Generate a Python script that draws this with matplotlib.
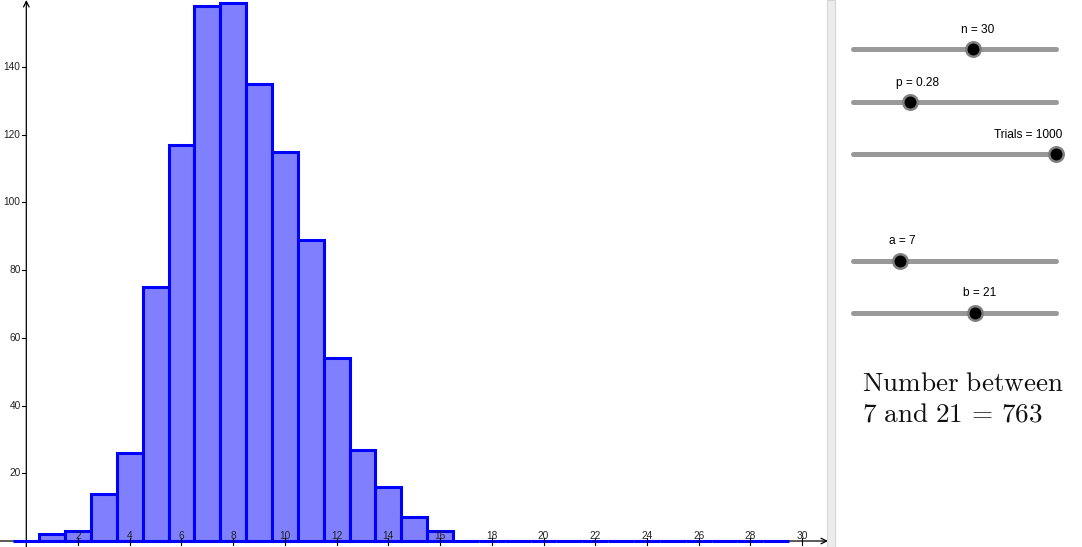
import matplotlib
matplotlib.use('Agg')
import matplotlib.pyplot as plt
from matplotlib.patches import Rectangle

# histogram of simulated binomial outcomes (counts per number of successes)
outcomes = list(range(0, 30))
counts = [0, 2, 3, 14, 26, 75, 117, 158, 159, 135, 115, 89, 54, 27, 16, 7, 3,
          0, 0, 0, 0, 0, 0, 0, 0, 0, 0, 0, 0, 0]
x_ticks = list(range(2, 31, 2))
y_ticks = list(range(20, 141, 20))

# slider settings: name, value, min, max
slider_names = ['n', 'p', 'Trials', 'a', 'b']
slider_values = [30, 0.28, 1000, 7, 21]
slider_mins = [1, 0, 0, 0, 0]
slider_maxs = [50, 1, 1000, 30, 35]

a_val, b_val = slider_values[3], slider_values[4]
between = sum(c for k, c in zip(outcomes, counts) if a_val <= k <= b_val)

plt.rcParams['mathtext.fontset'] = 'cm'
fig = plt.figure(figsize=(10.82, 5.47), dpi=100)
W, H = 1082, 547

# graphics view
ax = fig.add_axes([0, 0, 828 / W, 1])
ax.set_xlim(-1.017, 31.0)
ax.set_ylim(-1.77, 159.8)
ax.axis('off')

# axes with arrows
ax.annotate('', xy=(31.0, 0), xytext=(-1.017, 0),
            arrowprops=dict(arrowstyle='->', lw=0.9, color='black', shrinkA=0, shrinkB=0))
ax.annotate('', xy=(0, 159.8), xytext=(0, -1.77),
            arrowprops=dict(arrowstyle='->', lw=0.9, color='black', shrinkA=0, shrinkB=0))

for t in x_ticks:
    ax.plot([t, t], [-1.2, 1.0], color='black', lw=0.8, zorder=4)
    ax.text(t, 1.5, str(t), ha='center', va='center', fontsize=7.3,
            family='Liberation Sans', color='#222222', zorder=5)
for t in y_ticks:
    ax.plot([-0.15, 0], [t, t], color='black', lw=0.8)
    ax.text(-0.22, t, str(t), ha='right', va='center', fontsize=7.3,
            family='Liberation Sans', color='#222222')

ax.bar(outcomes, counts, width=1.0, color='#8080ff', edgecolor='#0000ff',
       linewidth=2.2, zorder=3)

# divider between graphics and algebra panels
fig.patches.append(Rectangle((827 / W, 0), 8 / W, 1, transform=fig.transFigure,
                             facecolor='#ececec', edgecolor='#d6d6d6', lw=0.8))

# slider panel in pixel coordinates
ax2 = fig.add_axes([0, 0, 1, 1])
ax2.set_xlim(0, W)
ax2.set_ylim(H, 0)
ax2.axis('off')
ax2.patch.set_alpha(0)

track_x0, track_x1 = 853, 1056
track_y = [49, 102, 154, 260.5, 312.5]
label_dx = [4, 8, -28, 2, 5]
for name, val, lo, hi, ty, dx in zip(slider_names, slider_values, slider_mins,
                                      slider_maxs, track_y, label_dx):
    ax2.plot([track_x0, track_x1], [ty, ty], color='#999999', lw=3.6,
             solid_capstyle='round')
    kx = track_x0 + (val - lo) / (hi - lo) * (track_x1 - track_x0)
    ax2.plot(kx, ty, 'o', ms=10.4, mfc='black', mec='#808080', mew=1.8)
    ax2.text(kx + dx, ty - 19, f'{name} = {val}', ha='center', va='center',
             fontsize=8.6, family='Liberation Sans', color='black')

ax2.text(862, 384, r'$\mathrm{Number\ between}$', ha='left', va='center',
         fontsize=19.6, color='#111111')
ax2.text(862, 415, rf'$\mathrm{{{a_val}\ and\ {b_val}}}\,=\,{between}$', ha='left',
         va='center', fontsize=19.6, color='#111111')

plt.savefig('out.png', dpi=100)
